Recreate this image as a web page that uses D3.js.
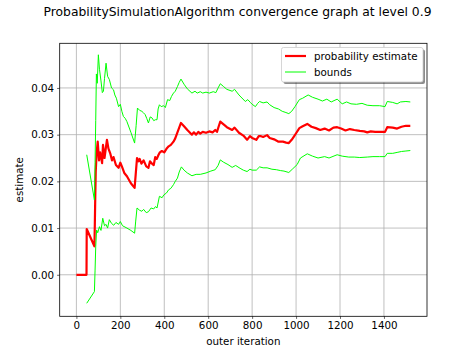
<!DOCTYPE html>
<html><head><meta charset="utf-8">
<script src="https://cdn.jsdelivr.net/npm/d3@7"></script>
<style>body{margin:0;background:#fff}svg{display:block;font-family:"DejaVu Sans",sans-serif}</style>
</head><body><svg id="c" width="474" height="355"></svg>
<script>
const titleText = "ProbabilitySimulationAlgorithm convergence graph at level 0.9";
const xLabel = "outer iteration";
const yLabel = "estimate";
const seriesNames = ["probability estimate", "bounds"];
const xTicks = [0, 200, 400, 600, 800, 1000, 1200, 1400];
const yTicks = [0.00, 0.01, 0.02, 0.03, 0.04];

const estimate = [[0,0],[46,0],[47,0.0098],[82,0.0061],[84,0.011],[86,0.017],[88,0.022],[92,0.026],[97,0.0285],[103,0.0245],[108,0.0262],[117,0.0239],[121,0.0278],[128,0.025],[139,0.0289],[146,0.0270],[154,0.026],[162,0.0245],[169,0.0252],[180,0.0235],[192,0.0229],[200,0.0240],[207,0.0232],[218,0.0218],[230,0.0211],[248,0.0196],[265,0.0186],[270,0.0215],[276,0.025],[283,0.0243],[288,0.0248],[296,0.0238],[306,0.0245],[318,0.0232],[328,0.0229],[335,0.0243],[344,0.0238],[352,0.0235],[359,0.0252],[366,0.0248],[374,0.0257],[380,0.0262],[389,0.0265],[400,0.0262],[412,0.0271],[420,0.0275],[430,0.0278],[442,0.0285],[450,0.0292],[460,0.0305],[468,0.0315],[476,0.0325],[490,0.0318],[505,0.031],[526,0.030],[535,0.0305],[545,0.0300],[555,0.0306],[564,0.0302],[575,0.0306],[590,0.0304],[605,0.0307],[620,0.0305],[632,0.031],[640,0.0306],[648,0.0318],[655,0.0328],[670,0.0322],[685,0.0316],[709,0.0310],[720,0.0315],[740,0.0304],[760,0.0298],[777,0.0289],[790,0.0297],[800,0.0293],[819,0.0289],[830,0.0297],[838,0.0297],[850,0.0295],[868,0.0299],[880,0.0293],[900,0.029],[920,0.0285],[940,0.0285],[955,0.0283],[967,0.0282],[980,0.0289],[990,0.0296],[1000,0.0303],[1015,0.0314],[1030,0.0318],[1051,0.0323],[1070,0.0317],[1090,0.0314],[1110,0.0310],[1130,0.0313],[1150,0.0309],[1170,0.0315],[1187,0.0316],[1205,0.0313],[1225,0.0309],[1245,0.0312],[1265,0.0310],[1290,0.0308],[1310,0.0307],[1324,0.0305],[1340,0.0307],[1360,0.0306],[1380,0.0306],[1405,0.0306],[1415,0.0316],[1440,0.0315],[1460,0.0313],[1480,0.0317],[1500,0.0319],[1520,0.0319]];

const upperBound = [[47,0.0257],[82,0.0160],[85,0.024],[88,0.033],[91,0.043],[95,0.041],[100,0.0471],[105,0.0440],[112,0.0415],[118,0.0390],[123,0.0393],[128,0.042],[135,0.0453],[142,0.0425],[150,0.0418],[160,0.0400],[169,0.0396],[175,0.0385],[182,0.0378],[192,0.0360],[200,0.0365],[207,0.0350],[214,0.0339],[222,0.0335],[230,0.0328],[248,0.0305],[265,0.0282],[272,0.0320],[278,0.0357],[288,0.0352],[298,0.0350],[305,0.0347],[313,0.0343],[320,0.0335],[328,0.0325],[336,0.0338],[344,0.0336],[352,0.0330],[360,0.0332],[367,0.0332],[372,0.0355],[378,0.0364],[386,0.0360],[397,0.0362],[405,0.0358],[415,0.0375],[425,0.0373],[433,0.0382],[442,0.0389],[450,0.0393],[460,0.0403],[468,0.0412],[476,0.0419],[490,0.0408],[505,0.0398],[526,0.0389],[540,0.0393],[550,0.0389],[564,0.0392],[575,0.0389],[590,0.0391],[605,0.0389],[623,0.0392],[635,0.0390],[645,0.0400],[655,0.0409],[670,0.0403],[685,0.0397],[709,0.0393],[720,0.0397],[740,0.0385],[769,0.0371],[780,0.0375],[792,0.0369],[800,0.0365],[815,0.0360],[825,0.0367],[834,0.0371],[850,0.0368],[868,0.0370],[880,0.0364],[900,0.0358],[920,0.0355],[937,0.0350],[950,0.0348],[967,0.0345],[980,0.0350],[995,0.0360],[1015,0.0375],[1030,0.0378],[1055,0.0385],[1075,0.0380],[1100,0.0376],[1120,0.0372],[1140,0.0376],[1160,0.0370],[1187,0.0376],[1210,0.0366],[1230,0.0370],[1250,0.0366],[1275,0.0365],[1300,0.0367],[1324,0.0363],[1350,0.0362],[1380,0.0362],[1405,0.0360],[1415,0.0371],[1440,0.0369],[1460,0.0366],[1475,0.0370],[1500,0.0371],[1520,0.0370]];

const lowerBound = [[47,-0.0061],[82,-0.0036],[85,0.001],[88,0.006],[92,0.0096],[97,0.009],[105,0.0103],[112,0.0095],[120,0.0121],[128,0.0105],[135,0.0108],[142,0.0100],[150,0.0118],[160,0.0110],[170,0.0106],[180,0.0112],[192,0.0108],[200,0.0114],[210,0.0105],[230,0.0100],[248,0.0095],[265,0.0089],[270,0.0115],[276,0.0143],[288,0.0138],[298,0.0136],[306,0.0140],[318,0.0133],[328,0.0135],[340,0.0143],[352,0.0141],[360,0.0146],[367,0.0143],[378,0.0168],[390,0.0165],[398,0.0171],[410,0.0175],[420,0.0182],[430,0.0185],[442,0.0193],[450,0.0200],[460,0.0207],[468,0.0220],[478,0.0231],[490,0.0224],[505,0.0218],[526,0.0212],[545,0.0215],[564,0.0215],[590,0.0218],[612,0.0222],[632,0.0225],[645,0.0234],[655,0.0246],[670,0.0241],[690,0.0236],[709,0.0230],[725,0.0234],[745,0.0228],[760,0.0224],[777,0.0221],[790,0.0226],[800,0.0224],[819,0.0224],[834,0.0231],[850,0.0229],[868,0.0229],[890,0.0226],[910,0.0225],[930,0.0223],[945,0.0222],[967,0.0219],[985,0.0227],[1005,0.0236],[1020,0.0250],[1051,0.0259],[1075,0.0254],[1100,0.0250],[1130,0.0253],[1150,0.0250],[1187,0.0257],[1210,0.0254],[1240,0.0252],[1265,0.0252],[1290,0.0251],[1324,0.0252],[1350,0.0253],[1380,0.0253],[1405,0.0253],[1415,0.0260],[1440,0.0260],[1460,0.0262],[1480,0.0264],[1500,0.0265],[1520,0.0266]];

const W = 474, H = 355;
const L = 59.7, R = 427, T = 43.3, B = 316.3;
const svg = d3.select("#c");

const x = d3.scaleLinear().domain([-76, 1596]).range([L, R]);
const y = d3.scaleLinear().domain([-0.00889, 0.04956]).range([B, T]);

// grid
const g = svg.append("g");
g.selectAll(".gx").data(xTicks).join("line")
  .attr("x1", d => x(d)).attr("x2", d => x(d)).attr("y1", T).attr("y2", B)
  .attr("stroke", "#b0b0b0").attr("stroke-width", 0.8);
g.selectAll(".gy").data(yTicks).join("line")
  .attr("y1", d => y(d)).attr("y2", d => y(d)).attr("x1", L).attr("x2", R)
  .attr("stroke", "#b0b0b0").attr("stroke-width", 0.8);

// clip
svg.append("clipPath").attr("id", "clip").append("rect")
  .attr("x", L).attr("y", T).attr("width", R - L).attr("height", B - T);

const line = d3.line().x(d => x(d[0])).y(d => y(d[1]));
const plot = svg.append("g").attr("clip-path", "url(#clip)");
plot.append("path").datum(estimate).attr("d", line)
  .attr("fill", "none").attr("stroke", "#ff0000").attr("stroke-width", 2.2).attr("stroke-linejoin", "round");
plot.append("path").datum(upperBound).attr("d", line)
  .attr("fill", "none").attr("stroke", "#00ff00").attr("stroke-width", 1);
plot.append("path").datum(lowerBound).attr("d", line)
  .attr("fill", "none").attr("stroke", "#00ff00").attr("stroke-width", 1);

// axes
const xAxis = d3.axisBottom(x).tickValues(xTicks).tickSize(2.6).tickPadding(3).tickFormat(d3.format("d"));
const yAxis = d3.axisLeft(y).tickValues(yTicks).tickSize(2.6).tickPadding(3).tickFormat(d3.format(".2f"));
const ax = svg.append("g").attr("transform", `translate(0,${B})`).call(xAxis);
const ay = svg.append("g").attr("transform", `translate(${L},0)`).call(yAxis);
[ax, ay].forEach(a => {
  a.select(".domain").remove();
  a.selectAll("text").attr("font-size", "10.3px").attr("fill", "#000").attr("font-family", "DejaVu Sans");
  a.selectAll("line").attr("stroke", "#000").attr("stroke-width", 0.6);
});

// frame
svg.append("rect").attr("x", L).attr("y", T).attr("width", R - L).attr("height", B - T)
  .attr("fill", "none").attr("stroke", "#000").attr("stroke-width", 0.8);

// labels
svg.append("text").attr("x", (L + R) / 2).attr("y", 345).attr("text-anchor", "middle")
  .attr("font-size", "10.3px").text(xLabel);
svg.append("text").attr("transform", `translate(23,${(T + B) / 2}) rotate(-90)`).attr("text-anchor", "middle")
  .attr("font-size", "10.3px").text(yLabel);
svg.append("text").attr("x", 43.5).attr("y", 15.8).attr("text-anchor", "start")
  .attr("font-size", "11.6px").attr("textLength", 388).attr("lengthAdjust", "spacingAndGlyphs").text(titleText);

// legend
const lg = svg.append("g");
const lx = 281.5, ly = 47.5, lw = 141.5, lh = 34.5;
lg.append("rect").attr("x", lx + 2).attr("y", ly + 2).attr("width", lw).attr("height", lh)
  .attr("rx", 2).attr("fill", "#000").attr("opacity", 0.45);
lg.append("rect").attr("x", lx).attr("y", ly).attr("width", lw).attr("height", lh)
  .attr("rx", 2).attr("fill", "#fff").attr("stroke", "#cccccc").attr("stroke-width", 0.8);
const colors = ["#ff0000", "#00ff00"];
const widths = [2.2, 1];
seriesNames.forEach((n, i) => {
  const yy = 56 + i * 16;
  lg.append("line").attr("x1", 285).attr("x2", 306).attr("y1", yy).attr("y2", yy)
    .attr("stroke", colors[i]).attr("stroke-width", widths[i]);
  lg.append("text").attr("x", 314).attr("y", yy + 3.7).attr("font-size", "10.3px").text(n);
});
</script></body></html>
